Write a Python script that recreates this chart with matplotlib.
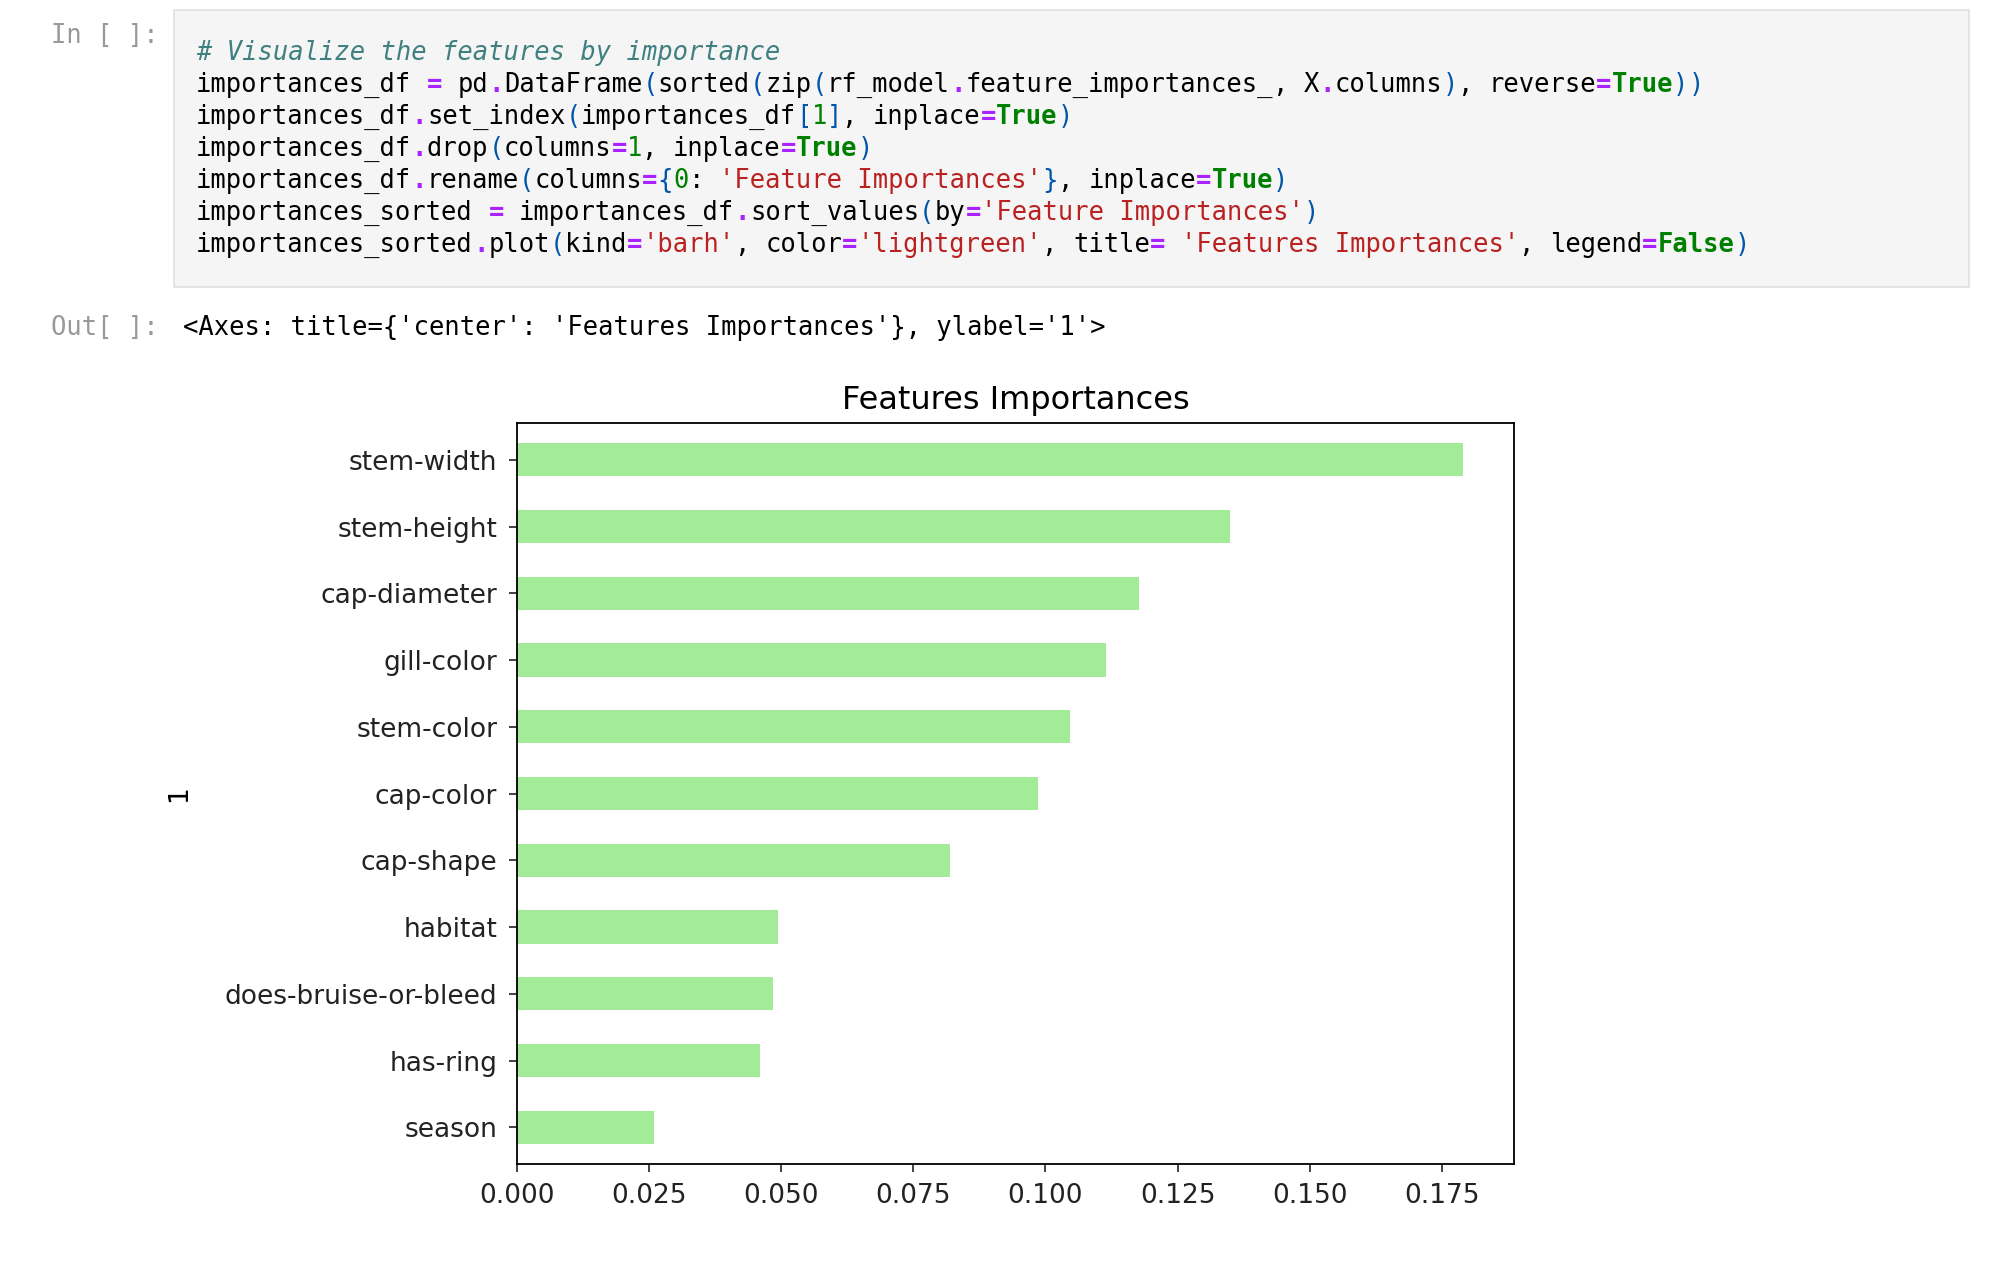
import re
import matplotlib
matplotlib.use("Agg")
import matplotlib.pyplot as plt
from matplotlib.patches import Rectangle

features = ["stem-width", "stem-height", "cap-diameter", "gill-color", "stem-color",
            "cap-color", "cap-shape", "habitat", "does-bruise-or-bleed", "has-ring", "season"]
importances = [0.179, 0.135, 0.1178, 0.1115, 0.1047, 0.0986, 0.0819, 0.0494, 0.0485, 0.0460, 0.0259]

code_lines = [
    "# Visualize the features by importance",
    "importances_df = pd.DataFrame(sorted(zip(rf_model.feature_importances_, X.columns), reverse=True))",
    "importances_df.set_index(importances_df[1], inplace=True)",
    "importances_df.drop(columns=1, inplace=True)",
    "importances_df.rename(columns={0: 'Feature Importances'}, inplace=True)",
    "importances_sorted = importances_df.sort_values(by='Feature Importances')",
    "importances_sorted.plot(kind='barh', color='lightgreen', title= 'Features Importances', legend=False)",
]
out_text = "<Axes: title={'center': 'Features Importances'}, ylabel='1'>"

W, H = 1560.0, 986.0  # layout measured in reference pixels
fig = plt.figure(figsize=(20, 12.64), dpi=100)

def fx(x): return x / W
def fy(y): return 1 - y / H

# code cell
fig.patches.append(Rectangle((fx(136), fy(224)), fx(1536) - fx(136), fy(8) - fy(224),
                             transform=fig.transFigure, facecolor="#f5f5f5",
                             edgecolor="#e0e0e0", linewidth=1.2))
mono = "DejaVu Sans Mono"
cw = 12.0
# font size chosen so one mono advance equals cw reference px
fs_code = cw * (2000 / W) * 72 / 100 / 0.602
tok_re = re.compile(r"(#.*$)|('[^']*')|\b(True|False)\b|\b(\d+)\b|([=.])|([()\[\]{}])|(\w+|\s+|.)")
for i, line in enumerate(code_lines):
    y = fy(41 + i * 25)
    for m in tok_re.finditer(line):
        s = m.group(0)
        if s.isspace():
            continue
        col = m.start()
        kw = dict(color="black", fontweight="normal", fontstyle="normal")
        if m.group(1):
            kw.update(color="#408080", fontstyle="italic")
        elif m.group(2):
            kw.update(color="#ba2121")
        elif m.group(3):
            kw.update(color="#008000", fontweight="bold")
        elif m.group(4):
            kw.update(color="#008000")
        elif m.group(5):
            kw.update(color="#aa22ff", fontweight="bold")
        elif m.group(6):
            kw.update(color="#0055aa")
        fig.text(fx(153 + col * cw), y, s, family=mono, fontsize=fs_code, va="center", ha="left", **kw)

fig.text(fx(40), fy(28), "In [ ]:", family=mono, fontsize=fs_code, color="#999999", va="center")
fig.text(fx(40), fy(256), "Out[ ]:", family=mono, fontsize=fs_code, color="#999999", va="center")
fig.text(fx(143), fy(256), out_text, family=mono, fontsize=fs_code, color="black", va="center")

# chart
ax = fig.add_axes([fx(403), fy(908), fx(1181) - fx(403), fy(330) - fy(908)])
pos = list(range(len(features)))[::-1]
ax.barh(pos, importances, height=0.5, color="#a3eb98")
ax.set_yticks(pos)
ax.set_yticklabels(features)
ax.set_xticks([0, 0.025, 0.05, 0.075, 0.1, 0.125, 0.15, 0.175])
ax.set_xticklabels(["0.000", "0.025", "0.050", "0.075", "0.100", "0.125", "0.150", "0.175"])
ax.set_xlim(0, max(importances) * 1.054)
ax.set_ylim(-0.55, len(features) - 0.45)
ax.tick_params(labelsize=19, length=6, width=1.2, pad=8, colors="#222222")
for sp in ax.spines.values():
    sp.set_linewidth(1.3)
ax.set_title("Features Importances", fontsize=23, pad=10)
ax.set_ylabel("1", fontsize=19)
axw = fx(1181) - fx(403)
ax.yaxis.set_label_coords((fx(150) - fx(403)) / axw, 0.5)

fig.savefig("out.png", dpi=100)
